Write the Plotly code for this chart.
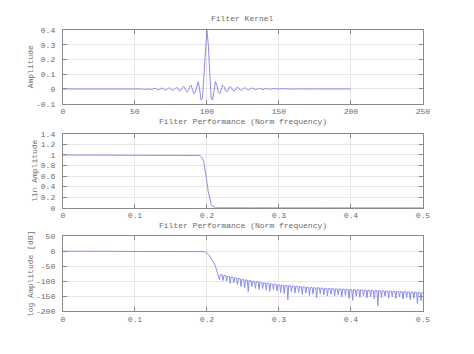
import numpy as np
import plotly.graph_objects as go

# ---------------- data ----------------
kernel = [
    0, 0, 0, 0, 0,
    0, -0.00001, -0.00001, 0.00001, 0.00002,
    0, -0.00004, -0.00003, 0.00003, 0.00007,
    0, -0.00009, -0.00006, 0.00007, 0.00013,
    0, -0.00017, -0.00012, 0.00013, 0.00024,
    0, -0.00030, -0.00020, 0.00022, 0.00040,
    0, -0.00048, -0.00032, 0.00035, 0.00062,
    0, -0.00074, -0.00049, 0.00054, 0.00094,
    0, -0.00109, -0.00073, 0.00078, 0.00136,
    0, -0.00157, -0.00104, 0.00111, 0.00193,
    0, -0.00220, -0.00145, 0.00155, 0.00267,
    0, -0.00302, -0.00199, 0.00211, 0.00363,
    0, -0.00410, -0.00269, 0.00285, 0.00489,
    0, -0.00550, -0.00361, 0.00382, 0.00656,
    0, -0.00738, -0.00484, 0.00513, 0.00882,
    0, -0.00996, -0.00655, 0.00698, 0.01204,
    0, -0.01375, -0.00911, 0.00978, 0.01705,
    0, -0.01997, -0.01344, 0.01471, 0.02620,
    0, -0.03255, -0.02279, 0.02620, 0.04973,
    0, -0.07520, -0.06214, 0.09340, 0.30263,
    0.4,
    0.30263, 0.09340, -0.06214, -0.07520, 0,
    0.04973, 0.02620, -0.02279, -0.03255, 0,
    0.02620, 0.01471, -0.01344, -0.01997, 0,
    0.01705, 0.00978, -0.00911, -0.01375, 0,
    0.01204, 0.00698, -0.00655, -0.00996, 0,
    0.00882, 0.00513, -0.00484, -0.00738, 0,
    0.00656, 0.00382, -0.00361, -0.00550, 0,
    0.00489, 0.00285, -0.00269, -0.00410, 0,
    0.00363, 0.00211, -0.00199, -0.00302, 0,
    0.00267, 0.00155, -0.00145, -0.00220, 0,
    0.00193, 0.00111, -0.00104, -0.00157, 0,
    0.00136, 0.00078, -0.00073, -0.00109, 0,
    0.00094, 0.00054, -0.00049, -0.00074, 0,
    0.00062, 0.00035, -0.00032, -0.00048, 0,
    0.00040, 0.00022, -0.00020, -0.00030, 0,
    0.00024, 0.00013, -0.00012, -0.00017, 0,
    0.00013, 0.00007, -0.00006, -0.00009, 0,
    0.00007, 0.00003, -0.00003, -0.00004, 0,
    0.00002, 0.00001, -0.00001, -0.00001, 0,
    0, 0, 0, 0, 0,
]
sample_index = list(range(len(kernel)))

freq = [
    0.0, 0.1, 0.18, 0.184, 0.186, 0.188, 0.190, 0.192, 0.194, 0.196,
    0.198, 0.200, 0.202, 0.204, 0.206, 0.208, 0.210, 0.212, 0.214, 0.216,
    0.2175, 0.2187, 0.2213, 0.2225, 0.2237, 0.2263, 0.2275, 0.2287, 0.2313,
    0.2325, 0.2337, 0.2363, 0.2375, 0.2387, 0.2413, 0.2425, 0.2437, 0.2463,
    0.2475, 0.2487, 0.2513, 0.2525, 0.2537, 0.2563, 0.2575, 0.2587, 0.2613,
    0.2625, 0.2637, 0.2663, 0.2675, 0.2687, 0.2713, 0.2725, 0.2737, 0.2763,
    0.2775, 0.2787, 0.2813, 0.2825, 0.2837, 0.2863, 0.2875, 0.2887, 0.2913,
    0.2925, 0.2937, 0.2963, 0.2975, 0.2987, 0.3013, 0.3025, 0.3037, 0.3063,
    0.3075, 0.3087, 0.3113, 0.3125, 0.3137, 0.3163, 0.3175, 0.3187, 0.3213,
    0.3225, 0.3237, 0.3263, 0.3275, 0.3287, 0.3313, 0.3325, 0.3337, 0.3363,
    0.3375, 0.3387, 0.3413, 0.3425, 0.3437, 0.3463, 0.3475, 0.3487, 0.3513,
    0.3525, 0.3537, 0.3563, 0.3575, 0.3587, 0.3613, 0.3625, 0.3637, 0.3663,
    0.3675, 0.3687, 0.3713, 0.3725, 0.3737, 0.3763, 0.3775, 0.3787, 0.3813,
    0.3825, 0.3837, 0.3863, 0.3875, 0.3887, 0.3913, 0.3925, 0.3937, 0.3963,
    0.3975, 0.3987, 0.4013, 0.4025, 0.4037, 0.4063, 0.4075, 0.4087, 0.4113,
    0.4125, 0.4137, 0.4163, 0.4175, 0.4187, 0.4213, 0.4225, 0.4237, 0.4263,
    0.4275, 0.4287, 0.4313, 0.4325, 0.4337, 0.4363, 0.4375, 0.4387, 0.4413,
    0.4425, 0.4437, 0.4463, 0.4475, 0.4487, 0.4513, 0.4525, 0.4537, 0.4563,
    0.4575, 0.4587, 0.4613, 0.4625, 0.4637, 0.4663, 0.4675, 0.4687, 0.4713,
    0.4725, 0.4737, 0.4763, 0.4775, 0.4787, 0.4813, 0.4825, 0.4837, 0.4863,
    0.4875, 0.4887, 0.4913, 0.4925, 0.4937, 0.4963, 0.4975, 0.4987, 0.5000,
]

mag_db = [
    0, 0, 0, -0.001, -0.005, -0.026, -0.087, -0.247, -0.584, -1.41,
    -3.10, -6.02, -10.46, -16.48, -23.74, -31.06, -40.0, -50.46, -64.4, -78.4,
    -95, -78, -79, -98, -81, -82, -100, -84, -85,
    -108, -86, -87, -105, -89, -90, -112, -91, -92,
    -118, -94, -95, -122, -96, -97, -135, -98, -99,
    -118, -100, -101, -124, -102, -103, -128, -104, -105,
    -125, -106, -107, -130, -107, -108, -134, -109, -110,
    -128, -110, -111, -133, -112, -113, -138, -113, -114,
    -142, -114, -115, -162, -115, -116, -136, -116, -117,
    -140, -117, -118, -138, -118, -119, -145, -119, -120,
    -140, -120, -121, -148, -121, -122, -143, -122, -123,
    -155, -122, -123, -142, -123, -124, -146, -124, -125,
    -150, -124, -125, -144, -125, -126, -149, -126, -127,
    -146, -126, -127, -152, -127, -128, -148, -127, -128,
    -158, -128, -129, -164, -128, -129, -150, -129, -130,
    -154, -129, -130, -149, -130, -131, -156, -130, -131,
    -152, -131, -132, -160, -131, -132, -182, -132, -133,
    -155, -132, -133, -150, -133, -134, -157, -133, -134,
    -152, -134, -135, -158, -134, -135, -153, -135, -136,
    -160, -135, -136, -155, -136, -137, -162, -136, -137,
    -158, -137, -138, -175, -137, -138, -165, -138, -139,
]

mag_lin = (10.0 ** (np.array(mag_db) / 20.0)).tolist()

kernel_ticks = [0, 50, 100, 150, 200, 250]
kernel_yticks = [-0.1, 0, 0.1, 0.2, 0.3, 0.4]
kernel_yticktext = ["-0.1", "0", "0.1", "0.2", "0.3", "0.4"]
freq_ticks = [0, 0.1, 0.2, 0.3, 0.4, 0.5]
freq_ticktext = ["0", "0.1", "0.2", "0.3", "0.4", "0.5"]
lin_yticks = [0, 0.2, 0.4, 0.6, 0.8, 1.0, 1.2, 1.4]
lin_yticktext = ["0", "0.2", "0.4", "0.6", "0.8", "1", "1.2", "1.4"]
db_yticks = [-200, -150, -100, -50, 0, 50]
db_yticktext = ["-200", "-150", "-100", "-50", "0", "50"]

# ---------------- figure ----------------
W, H = 474, 354
LINE = dict(color="rgb(140,140,236)", width=1)
FONT = "Liberation Mono"
TXT = "#6a6a6a"
FS = 8

fig = go.Figure()
fig.add_trace(go.Scatter(x=sample_index, y=kernel, mode="lines", line=LINE,
                         xaxis="x", yaxis="y", hoverinfo="skip"))
fig.add_trace(go.Scatter(x=freq, y=mag_lin, mode="lines", line=LINE,
                         xaxis="x2", yaxis="y2", hoverinfo="skip"))
fig.add_trace(go.Scatter(x=freq, y=mag_db, mode="lines", line=LINE,
                         xaxis="x3", yaxis="y3", hoverinfo="skip"))

def ax(**kw):
    base = dict(showline=True, linecolor="#8a8a8a", linewidth=1, mirror="ticks",
                ticks="inside", ticklen=4, tickcolor="#8a8a8a",
                showgrid=True, gridcolor="#e6e6e6", gridwidth=1, zeroline=False,
                tickfont=dict(family=FONT, size=FS, color=TXT), tickmode="array")
    base.update(kw)
    return base

xd = [62 / W, 429 / W]
def yd(top, bot):
    return [1 - bot / H, 1 - top / H]

YSTAND = 5
fig.update_layout(
    width=W, height=H, margin=dict(l=0, r=0, t=0, b=0),
    paper_bgcolor="white", plot_bgcolor="white", showlegend=False,
    xaxis=ax(domain=xd, anchor="y", range=[0, 250], tickvals=kernel_ticks,
             ticktext=[str(v) for v in kernel_ticks]),
    yaxis=ax(domain=yd(26.7, 102.3), anchor="x", range=[-0.1, 0.4],
             tickvals=kernel_yticks, ticktext=kernel_yticktext, ticklabelstandoff=YSTAND),
    xaxis2=ax(domain=xd, anchor="y2", range=[0, 0.5], tickvals=freq_ticks,
              ticktext=freq_ticktext),
    yaxis2=ax(domain=yd(133.3, 209), anchor="x2", range=[0, 1.4],
              tickvals=lin_yticks, ticktext=lin_yticktext, ticklabelstandoff=YSTAND),
    xaxis3=ax(domain=xd, anchor="y3", range=[0, 0.5], tickvals=freq_ticks,
              ticktext=freq_ticktext),
    yaxis3=ax(domain=yd(238.3, 315), anchor="x3", range=[-200, 50],
              tickvals=db_yticks, ticktext=db_yticktext, ticklabelstandoff=YSTAND),
)

def ann(text, x, y, angle=0):
    fig.add_annotation(text=text, xref="paper", yref="paper", x=x / W, y=1 - y / H,
                       xanchor="center", yanchor="middle", showarrow=False,
                       textangle=angle, font=dict(family=FONT, size=FS, color=TXT))

ann("Filter Kernel", 245.5, 15)
ann("Filter Performance (Norm frequency)", 245.5, 121)
ann("Filter Performance (Norm frequency)", 245.5, 227)
ann("Amplitude", 29, 64.5, -90)
ann("lin Amplitude", 33, 171, -90)
ann("log Amplitude [dB]", 29, 276.7, -90)

fig.write_html("out.html")
